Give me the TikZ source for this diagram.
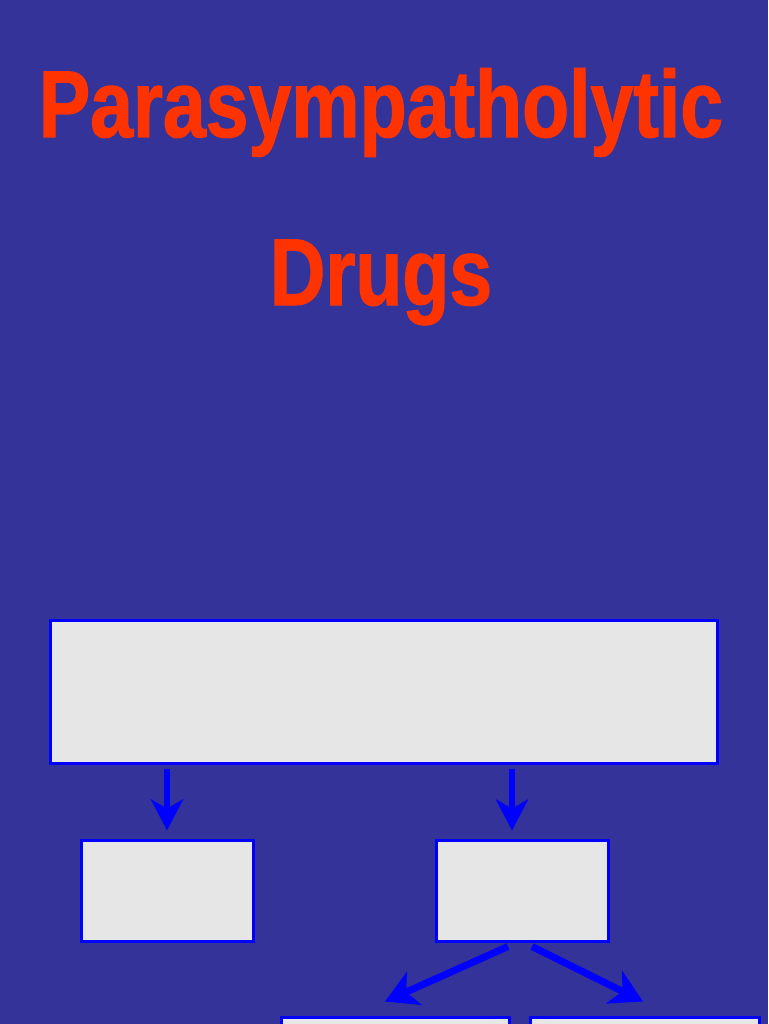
\documentclass[tikz,border=0pt]{standalone}
\usepackage{fontspec}
\newfontfamily\titlefont[FakeStretch=0.81,FakeBold=1.2]{Liberation Sans}
\usetikzlibrary{arrows.meta}
\definecolor{bgblue}{HTML}{333399}
\definecolor{titlered}{HTML}{FF3300}
\definecolor{boxgray}{HTML}{E6E6E6}
\tikzset{
  box/.style={draw=blue, fill=boxgray, line width=3pt, inner sep=0pt},
  arr/.style={draw=blue, line width=5.5pt, -{Stealth[length=31pt,width=32pt,inset=9pt]}},
  darr/.style={draw=blue, line width=7pt, -{Stealth[length=32pt,width=36pt,inset=9pt]}},
  ttl/.style={text=titlered, anchor=base, inner sep=0pt, font=\titlefont\bfseries\fontsize{95}{100}\selectfont}
}
\begin{document}
\begin{tikzpicture}[x=1pt,y=-1pt]
\useasboundingbox (0,0) rectangle (768,1024);
\fill[bgblue] (0,0) rectangle (768,1024);
\node[ttl] (t1) at (381,137) {Parasympatholytic};
\node[ttl] (t2) at (381,305) {Drugs};
\node[box, minimum width=667pt, minimum height=143pt] (top) at (383.5,691.5) {};
\node[box, minimum width=172pt, minimum height=101pt] (left) at (167,890.5) {};
\node[box, minimum width=172pt, minimum height=101pt] (mid) at (522,890.5) {};
\node[box, minimum width=228pt, minimum height=101pt] (bl) at (395,1067.5) {};
\node[box, minimum width=229pt, minimum height=101pt] (br) at (644.5,1067.5) {};
\draw[arr] ([yshift=-4pt]left.north |- top.south) -- ([yshift=8pt]left.north);
\draw[arr] ([xshift=-10pt,yshift=-4pt]mid.north |- top.south) -- ([xshift=-10pt,yshift=8pt]mid.north);
\draw[darr] ([xshift=-14pt,yshift=-4pt]mid.south) -- ([xshift=-10pt,yshift=14pt]bl.north);
\draw[darr] ([xshift=10pt,yshift=-4pt]mid.south) -- ([xshift=-1.5pt,yshift=14pt]br.north);
\end{tikzpicture}
\end{document}
